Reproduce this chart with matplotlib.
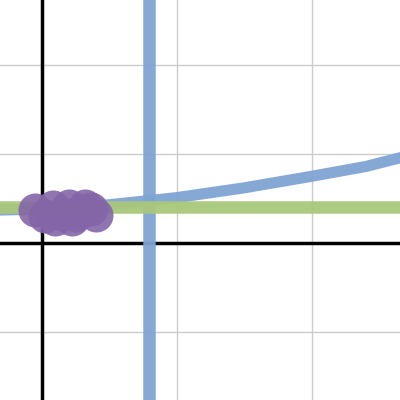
import matplotlib
matplotlib.use('Agg')
from matplotlib import pyplot as plt

# values (grid units)
curve_x = [-0.32, 0.0, 0.5, 1.0, 1.5, 2.0, 2.4, 2.66]
curve_y = [0.37, 0.38, 0.43, 0.51, 0.62, 0.75, 0.86, 0.96]
vline_x = 0.79
hline_y = 0.40
pts_x = [-0.05, 0.02, 0.08, 0.15, 0.2, 0.25, 0.3, 0.36, 0.4, 0.1, 0.22, 0.32]
pts_y = [0.37, 0.30, 0.40, 0.33, 0.42, 0.31, 0.36, 0.38, 0.32, 0.27, 0.27, 0.41]

fig = plt.figure(figsize=(4, 4), dpi=100)
ax = fig.add_axes([0, 0, 1, 1])
ax.set_xlim(-0.311, 2.652)
ax.set_ylim(-1.764, 2.73)
for gx in [1, 2]:
    ax.axvline(gx, color='#cccccc', lw=1, zorder=0)
for gy in [-1, 1, 2]:
    ax.axhline(gy, color='#cccccc', lw=1, zorder=0)
ax.axhline(0, color='black', lw=2.5, zorder=1)
ax.axvline(0, color='black', lw=2.5, zorder=1)

ax.axvline(vline_x, color='#7ea4d2', lw=9, alpha=0.95, zorder=2)
ax.plot(curve_x, curve_y, color='#7ea4d2', lw=8, alpha=0.95, zorder=3)
ax.axhline(hline_y, color='#a9c77a', lw=9, alpha=0.95, zorder=4)
ax.scatter(pts_x, pts_y, s=600, color='#8466a8', alpha=0.9, lw=0, zorder=5)
ax.axis('off')
fig.savefig('out.png')
